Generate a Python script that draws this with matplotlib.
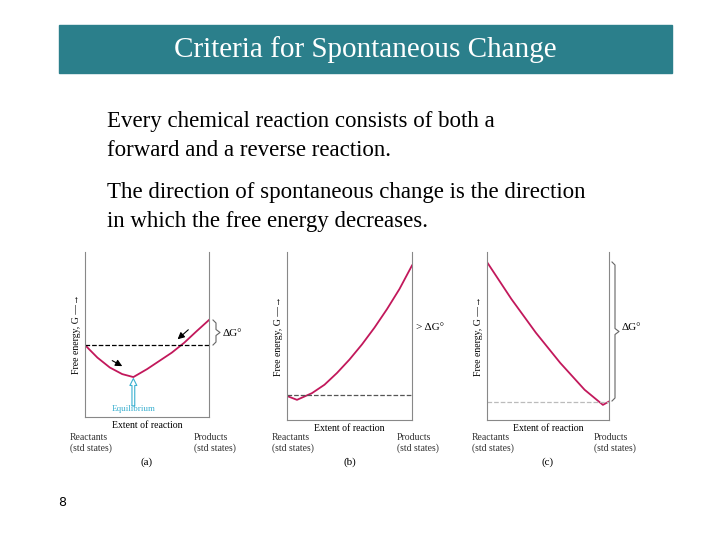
import matplotlib
matplotlib.use("Agg")
import matplotlib.pyplot as plt
from matplotlib.patches import Rectangle
from matplotlib.lines import Line2D

plt.rcParams['font.family'] = ['Liberation Serif', 'DejaVu Serif']

title = "Criteria for Spontaneous Change"
para1 = ["Every chemical reaction consists of both a", "forward and a reverse reaction."]
para2 = ["The direction of spontaneous change is the direction", "in which the free energy decreases."]

xa = [0, 0.1, 0.2, 0.3, 0.39, 0.5, 0.6, 0.7, 0.8, 0.9, 1.0]
ga = [0.436, 0.36, 0.30, 0.26, 0.242, 0.29, 0.34, 0.39, 0.45, 0.52, 0.588]
ref_a = 0.436
xb = [0, 0.08, 0.2, 0.3, 0.4, 0.5, 0.6, 0.7, 0.8, 0.9, 1.0]
gb = [0.143, 0.12, 0.16, 0.21, 0.28, 0.36, 0.45, 0.55, 0.66, 0.78, 0.92]
ref_b = 0.149
xc = [0, 0.1, 0.2, 0.3, 0.4, 0.5, 0.6, 0.7, 0.8, 0.9, 0.95, 1.0]
gc = [0.94, 0.83, 0.72, 0.62, 0.52, 0.43, 0.34, 0.26, 0.18, 0.12, 0.09, 0.11]
ref_c = 0.11
labels = ["(a)", "(b)", "(c)"]

W, H = 720, 540
fig = plt.figure(figsize=(7.2, 5.4), dpi=100)
fig.patch.set_facecolor('white')

def fx(p): return p / W
def fy(p): return 1 - p / H

fig.patches.append(Rectangle((fx(59), fy(73)), fx(672) - fx(59), fy(25) - fy(73),
                             transform=fig.transFigure, color='#2b7f8b', zorder=0))
fig.text(fx(365), fy(50), title, color='white', fontsize=21, ha='center', va='center')
for i, s in enumerate(para1):
    fig.text(fx(107), fy(121 + 30 * i), s, fontsize=16.5, va='center')
for i, s in enumerate(para2):
    fig.text(fx(107), fy(192 + 30 * i), s, fontsize=16.5, va='center')
fig.text(fx(62), fy(503), "8", fontsize=9, family='DejaVu Sans', va='center', ha='center')

def brace(xp, ytop, ybot, col='#666666'):
    ym = (ytop + ybot) / 2
    xs = [xp, xp + 3, xp + 3, xp + 7, xp + 3, xp + 3, xp]
    ys = [ytop, ytop + 3, ym - 3, ym, ym + 3, ybot - 3, ybot]
    fig.lines.append(Line2D([fx(v) for v in xs], [fy(v) for v in ys],
                            transform=fig.transFigure, color=col, lw=0.8))

panels = [(85, 209, 417, xa, ga, ref_a, 'k'),
          (287, 412, 420, xb, gb, ref_b, '#555555'),
          (487, 609, 420, xc, gc, ref_c, '#bbbbbb')]
curve_col = '#c2185b'
for k, (x0, x1, yb, xs, gs, ref, rc) in enumerate(panels):
    ax = fig.add_axes([fx(x0), fy(yb), fx(x1) - fx(x0), fy(252) - fy(yb)])
    ax.set_xlim(0, 1); ax.set_ylim(0, 1)
    ax.set_xticks([]); ax.set_yticks([])
    ax.spines['top'].set_visible(False)
    for s in ['left', 'right', 'bottom']:
        ax.spines[s].set_color('#888888'); ax.spines[s].set_linewidth(0.8)
    ax.plot(xs, gs, color=curve_col, lw=1.3)
    ax.axhline(ref, color=rc, ls='--', lw=0.9)
    ax.set_xlabel("Extent of reaction", fontsize=7, labelpad=3)
    ax.set_ylabel("Free energy, G \u2014\u2192", fontsize=7, labelpad=3)
    cx = (x0 + x1) / 2
    fig.text(fx(x0 - 15), fy(443), "Reactants\n(std states)", fontsize=7, va='center', color='#333333')
    fig.text(fx(x1 - 15), fy(443), "Products\n(std states)", fontsize=7, va='center', color='#333333')
    fig.text(fx(cx), fy(462), labels[k], fontsize=8, ha='center', va='center')
    if k == 0:
        ax.annotate('', xy=(0.39, 0.25), xytext=(0.39, 0.05),
                    arrowprops=dict(arrowstyle='simple', fc='white', ec='#3bb0d0', lw=0.8))
        ax.text(0.39, 0.05, "Equilibrium", color='#3bb0d0', fontsize=6.5, ha='center', va='center')
        ax.annotate('', xy=(0.32, 0.30), xytext=(0.2, 0.35), arrowprops=dict(arrowstyle='-|>', color='k', lw=0.8))
        ax.annotate('', xy=(0.73, 0.46), xytext=(0.85, 0.54), arrowprops=dict(arrowstyle='-|>', color='k', lw=0.8))
        brace(213, 320, 345)
        fig.text(fx(223), fy(333), "\u0394G\u00b0", fontsize=8, va='center')
    elif k == 1:
        fig.text(fx(416), fy(328), "> \u0394G\u00b0", fontsize=8, va='center')
    else:
        brace(612, 262, 401)
        fig.text(fx(622), fy(328), "\u0394G\u00b0", fontsize=8, va='center')

fig.savefig("out.png", dpi=100)
